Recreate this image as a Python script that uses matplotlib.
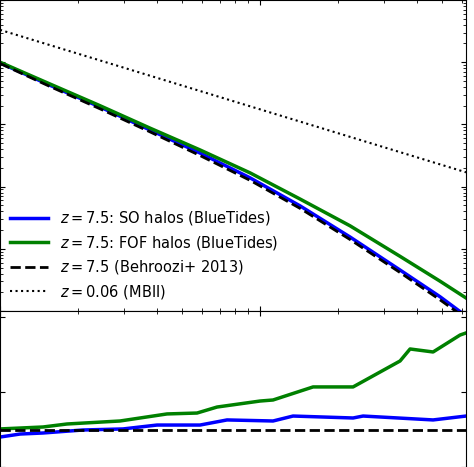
import numpy as np
import matplotlib
matplotlib.use("Agg")
import matplotlib.pyplot as plt

logm = [9.0, 9.192, 9.385, 9.577, 9.769, 9.962, 10.154, 10.346, 10.538, 10.692, 10.792]
so_bt = [-3.01, -3.37, -3.72, -4.09, -4.46, -4.86, -5.31, -5.81, -6.34, -6.77, -7.08]
fof_bt = [-3.00, -3.35, -3.70, -4.06, -4.41, -4.78, -5.20, -5.63, -6.12, -6.52, -6.79]
behroozi = [-3.02, -3.39, -3.75, -4.12, -4.50, -4.90, -5.35, -5.85, -6.38, -6.82, -7.12]
mbii_logm = [9.0, 10.792]
mbii = [-2.48, -4.77]

r_so_x = [0, 20, 43, 83, 123, 157, 200, 227, 273, 293, 353, 363, 433, 466]
r_so = [0.953, 0.973, 0.98, 1.0, 1.007, 1.033, 1.033, 1.067, 1.06, 1.093, 1.08, 1.093, 1.067, 1.093]
r_fof_x = [0, 43, 67, 120, 167, 197, 217, 260, 273, 313, 353, 400, 410, 433, 460, 466]
r_fof = [1.007, 1.02, 1.04, 1.06, 1.107, 1.113, 1.153, 1.193, 1.2, 1.287, 1.287, 1.46, 1.54, 1.52, 1.633, 1.647]

def px2logm(p):
    return 9.0 + np.array(p) / 260.0

fig = plt.figure(figsize=(4.74, 4.67), dpi=100)
ax1 = fig.add_axes([0.0, 0.334, 466/474, 0.666])
ax2 = fig.add_axes([0.0, -0.1135, 466/474, 0.4475])

m = 10 ** np.array(logm)
ax1.plot(m, 10 ** np.array(so_bt), color='blue', lw=2.5, label='$z=7.5$: SO halos (BlueTides)')
ax1.plot(m, 10 ** np.array(fof_bt), color='green', lw=2.5, label='$z=7.5$: FOF halos (BlueTides)')
ax1.plot(m, 10 ** np.array(behroozi), color='black', lw=2, ls='--', label='$z=7.5$ (Behroozi+ 2013)')
ax1.plot(10 ** np.array(mbii_logm), 10 ** np.array(mbii), color='black', lw=1.5, ls=':', label='$z=0.06$ (MBII)')
ax1.set_xscale('log'); ax1.set_yscale('log')
ax1.set_xlim(1e9, 10 ** 10.792)
ax1.set_ylim(1e-7, 1e-2)
ax1.tick_params(which='both', direction='in', top=True, right=True, labelbottom=False, labelleft=False)
ax1.legend(loc='lower left', bbox_to_anchor=(0.0, 0.0), frameon=False, fontsize=10.5,
           handlelength=2.6, borderaxespad=0.3, labelspacing=0.45)

ax2.plot(10 ** px2logm(r_so_x), r_so, color='blue', lw=2.5)
ax2.plot(10 ** px2logm(r_fof_x), r_fof, color='green', lw=2.5)
ax2.axhline(1.0, color='black', lw=2, ls='--')
ax2.set_xscale('log')
ax2.set_xlim(1e9, 10 ** 10.792)
ax2.set_ylim(0.4, 1.793)
ax2.set_yticks([0.75, 1.25, 1.75])
ax2.tick_params(which='both', direction='in', top=True, right=True, labelbottom=False, labelleft=False)

fig.savefig('out.png', dpi=100)
